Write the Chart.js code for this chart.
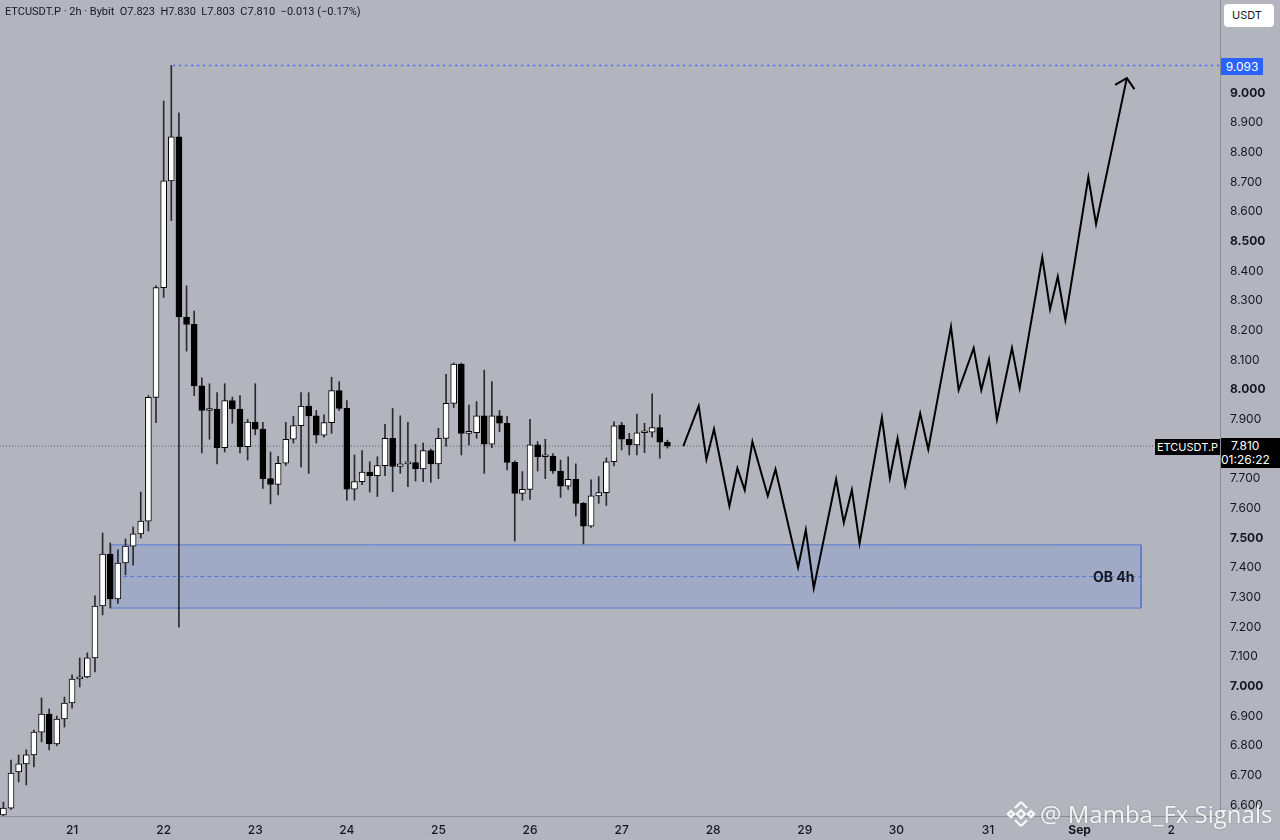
<!DOCTYPE html>
<html>
<head>
<meta charset="utf-8">
<script src="https://cdn.jsdelivr.net/npm/chart.js@4.4.1/dist/chart.umd.min.js"></script>
<style>
html,body{margin:0;padding:0;background:#b2b5bd;}
#wrap{position:relative;width:1280px;height:840px;overflow:hidden;background:#b2b5bd;font-family:Inter,"Noto Sans",sans-serif;color:#131722;}
#c{position:absolute;left:0;top:0;}
.lbl{position:absolute;white-space:nowrap;}
#hdr{left:5px;top:5px;font-family:Roboto,"Noto Sans",sans-serif;font-size:11px;line-height:14px;}
#usdt{left:1224px;top:4px;width:50px;height:23px;background:#fff;border-radius:4px;font-size:11px;line-height:23px;text-indent:8px;}
#hi{left:1221px;top:58px;width:42px;height:17px;background:#2962ff;color:#fff;font-size:12px;line-height:17px;text-align:center;}
#sym{left:1155px;top:439px;width:65px;height:16px;background:#000;color:#fff;font-size:11px;line-height:16px;text-align:center;}
#last{left:1221px;top:438px;width:59px;height:30px;background:#000;color:#fff;font-size:12px;line-height:14px;padding-top:1px;box-sizing:border-box;text-indent:10px;}
#ob{left:1093px;top:568px;font-size:14px;font-weight:700;line-height:18px;}
#wm{left:1006px;top:798px;height:32px;font-family:"Open Sans",sans-serif;font-size:24px;line-height:30px;color:rgba(255,255,255,0.9);text-shadow:0 0 2px rgba(0,0,0,0.25);display:flex;align-items:center;gap:4px;}
</style>
</head>
<body>
<div id="wrap">
<canvas id="c" width="1280" height="840"></canvas>
<div class="lbl" id="hdr">ETCUSDT.P · 2h · Bybit&nbsp; O7.823&nbsp; H7.830&nbsp; L7.803&nbsp; C7.810&nbsp; −0.013 (−0.17%)</div>
<div class="lbl" id="usdt">USDT</div>
<div class="lbl" id="hi">9.093</div>
<div class="lbl" id="sym">ETCUSDT.P</div>
<div class="lbl" id="last">7.810<br>01:26:22</div>
<div class="lbl" id="ob">OB 4h</div>
<div class="lbl" id="wm"><svg width="30" height="30" viewBox="0 0 30 30"><g fill="none" stroke="rgba(255,255,255,0.9)" stroke-width="2.4"><path d="M15 3 L21 9 M15 3 L9 9"/><path d="M15 27 L21 21 M15 27 L9 21"/><path d="M15 11 L19 15 L15 19 L11 15 Z"/><path d="M5 12 L8 15 L5 18 L2 15 Z"/><path d="M25 12 L28 15 L25 18 L22 15 Z"/></g></svg><span>@ Mamba_Fx Signals</span></div>
</div>
<script>
// ---- candle data (2h candles, ETCUSDT.P) ----
const firstCandleDay = 20.25;      // Aug 20, 06:00
const candleStepDays = 2 / 24;     // 2h
const candleOpen  = [6.567,6.590,6.712,6.739,6.769,6.846,6.907,6.806,6.890,6.944,7.025,7.032,7.096,7.271,7.446,7.295,7.416,7.473,7.514,7.557,7.974,8.344,8.704,8.852,8.245,8.220,8.013,7.930,7.935,7.805,7.963,7.935,7.808,7.891,7.867,7.700,7.681,7.752,7.833,7.879,7.945,7.912,7.847,7.889,7.997,7.937,7.665,7.690,7.722,7.710,7.744,7.836,7.741,7.750,7.754,7.733,7.795,7.750,7.836,7.954,8.086,7.853,7.855,7.912,7.816,7.912,7.887,7.755,7.650,7.664,7.814,7.774,7.776,7.726,7.675,7.698,7.617,7.540,7.642,7.653,7.757,7.881,7.833,7.814,7.855,7.857,7.872,7.823];
const candleHigh  = [6.610,6.752,6.769,6.786,6.853,6.961,6.924,6.900,6.964,7.039,7.096,7.113,7.305,7.517,7.483,7.460,7.497,7.537,7.655,7.980,8.350,8.973,9.093,8.933,8.350,8.265,8.040,8.020,7.990,8.020,7.975,7.980,7.900,8.020,7.890,7.790,7.775,7.890,7.910,7.990,7.990,7.930,7.915,8.042,8.027,7.963,7.780,7.795,7.757,7.774,7.883,7.937,7.912,7.890,7.816,7.820,7.800,7.870,8.052,8.090,8.090,7.948,7.960,8.066,8.027,7.930,7.910,7.760,7.724,7.900,7.825,7.833,7.785,7.763,7.774,7.750,7.620,7.696,7.707,7.770,7.892,7.890,7.853,7.918,7.887,7.986,7.915,7.830];
const candleLow   = [6.563,6.585,6.678,6.668,6.729,6.813,6.786,6.800,6.863,6.927,6.998,7.029,7.049,7.241,7.264,7.280,7.376,7.409,7.500,7.524,7.889,8.311,8.570,7.200,8.130,7.980,7.787,7.833,7.750,7.790,7.887,7.787,7.763,7.848,7.667,7.615,7.645,7.745,7.820,7.740,7.718,7.820,7.840,7.853,7.930,7.628,7.628,7.680,7.655,7.640,7.710,7.656,7.718,7.673,7.692,7.690,7.688,7.700,7.810,7.940,7.780,7.814,7.836,7.718,7.805,7.859,7.730,7.490,7.627,7.630,7.726,7.700,7.718,7.637,7.664,7.574,7.480,7.536,7.617,7.610,7.743,7.797,7.780,7.780,7.788,7.840,7.769,7.803];
const candleClose = [6.590,6.708,6.739,6.769,6.846,6.907,6.806,6.890,6.944,7.025,7.032,7.096,7.271,7.446,7.295,7.416,7.473,7.514,7.557,7.974,8.344,8.704,8.852,8.245,8.220,8.013,7.930,7.935,7.805,7.963,7.935,7.808,7.891,7.867,7.700,7.681,7.752,7.833,7.879,7.945,7.912,7.847,7.889,7.997,7.937,7.665,7.690,7.722,7.710,7.744,7.836,7.741,7.750,7.754,7.733,7.795,7.750,7.836,7.954,8.086,7.853,7.857,7.912,7.816,7.912,7.887,7.755,7.650,7.664,7.814,7.774,7.776,7.726,7.675,7.698,7.617,7.540,7.642,7.653,7.757,7.878,7.833,7.814,7.855,7.857,7.872,7.823,7.810];

// ---- projected path (drawn forecast) ----
const projDays   = [27.674,27.842,27.926,28.009,28.177,28.264,28.344,28.428,28.596,28.680,28.927,29.011,29.098,29.342,29.426,29.514,29.598,29.842,29.929,30.013,30.096,30.260,30.348,30.596,30.680,30.844,30.927,31.011,31.098,31.262,31.346,31.593,31.678,31.762,31.845,32.096,32.180,32.516];
const projPrices = [7.810,7.945,7.765,7.867,7.608,7.735,7.662,7.825,7.642,7.732,7.401,7.527,7.331,7.698,7.552,7.662,7.482,7.906,7.703,7.836,7.679,7.920,7.799,8.212,7.999,8.140,7.999,8.102,7.900,8.140,8.005,8.446,8.271,8.381,8.235,8.716,8.558,9.050];
const arrowDays   = [32.388,32.516,32.599];
const arrowPrices = [9.027,9.050,9.013];

// ---- levels / zone ----
const highLevel = 9.093, highLevelStartDay = 22.104;
const lastPrice = 7.810;
const obTop = 7.477, obBottom = 7.264, obMid = 7.370;
const obStartDay = 21.426, obEndDay = 32.672, obMidStartDay = 21.56;

// ---- axes ----
const xMin = 20.2131, xMax = 33.5333;
const yMin = 6.5632, yMax = 9.3134;
const xTickDays   = [21,22,23,24,25,26,27,28,29,30,31,32,33];
const xTickLabels = ['21','22','23','24','25','26','27','28','29','30','31','Sep','2'];
const yTickValues = [6.6,6.7,6.8,6.9,7.0,7.1,7.2,7.3,7.4,7.5,7.6,7.7,7.8,7.9,8.0,8.1,8.2,8.3,8.4,8.5,8.6,8.7,8.8,8.9,9.0];

const candleDays = candleOpen.map((_, i) => firstCandleDay + i * candleStepDays);
const wickData = candleDays.map((d, i) => ({x: d, y: [candleLow[i], candleHigh[i]]}));
const bodyData = candleDays.map((d, i) => ({x: d, y: [candleOpen[i], candleClose[i]]}));
const bodyColors = candleOpen.map((o, i) => candleClose[i] >= o ? '#ffffff' : '#000000');
const pts = (xs, ys) => xs.map((x, i) => ({x, y: ys[i]}));

const FONT = 'Inter, "Noto Sans", sans-serif';
const lineBase = {type: 'line', pointRadius: 0, pointHoverRadius: 0, tension: 0, fill: false};

new Chart(document.getElementById('c'), {
  type: 'bar',
  data: {
    datasets: [
      Object.assign({}, lineBase, {label: 'forecast', data: pts(projDays, projPrices), borderColor: '#000', borderWidth: 2, borderJoinStyle: 'miter', order: 0}),
      Object.assign({}, lineBase, {label: 'arrow', data: pts(arrowDays, arrowPrices), borderColor: '#000', borderWidth: 2, order: 0}),
      {type: 'bar', label: 'body', data: bodyData, backgroundColor: bodyColors, borderColor: '#000', borderWidth: 1, borderSkipped: false, barThickness: 6, minBarLength: 2, grouped: false, order: 1},
      {type: 'bar', label: 'wick', data: wickData, backgroundColor: '#2a2a2e', borderWidth: 0, barThickness: 1, grouped: false, order: 2},
      Object.assign({}, lineBase, {label: 'high', data: [{x: highLevelStartDay, y: highLevel}, {x: xMax, y: highLevel}], borderColor: '#3d6cf0', borderWidth: 1.5, borderDash: [2, 4], order: 3}),
      Object.assign({}, lineBase, {label: 'last', data: [{x: xMin, y: lastPrice}, {x: xMax, y: lastPrice}], borderColor: '#5d6069', borderWidth: 1, borderDash: [1, 2], order: 4}),
      Object.assign({}, lineBase, {label: 'obmid', data: [{x: obMidStartDay, y: obMid}, {x: obEndDay, y: obMid}], borderColor: '#5573d0', borderWidth: 1, borderDash: [4, 3], order: 5}),
      Object.assign({}, lineBase, {label: 'obline', data: [{x: obStartDay, y: obBottom}, {x: obStartDay, y: obTop}, {x: obEndDay, y: obTop}, {x: obEndDay, y: obBottom}, {x: obStartDay, y: obBottom}], borderColor: '#5a78d2', borderWidth: 1, order: 6}),
      Object.assign({}, lineBase, {label: 'obfill', data: [{x: obStartDay, y: obTop}, {x: obEndDay, y: obTop}], borderWidth: 0, fill: {value: obBottom}, backgroundColor: 'rgba(41,98,255,0.13)', order: 7})
    ]
  },
  options: {
    responsive: false,
    animation: false,
    events: [],
    layout: {padding: 0},
    plugins: {legend: {display: false}, tooltip: {enabled: false}},
    scales: {
      x: {
        type: 'linear', min: xMin, max: xMax, offset: false, position: 'bottom',
        grid: {display: false, drawTicks: false},
        border: {display: true, color: '#8a8d95', width: 1},
        ticks: {autoSkip: false, maxRotation: 0, padding: 7, color: '#131722',
          font: ctx => ({family: FONT, size: 12, weight: (ctx.tick && ctx.tick.value === 32) ? '700' : '500'}),
          callback: (v, i) => xTickLabels[i]},
        afterBuildTicks: s => { s.ticks = xTickDays.map(v => ({value: v})); },
        afterFit: s => { s.height = 24; s.paddingLeft = 0; s.paddingRight = 0; }
      },
      y: {
        type: 'linear', position: 'right', min: yMin, max: yMax,
        grid: {display: false, drawTicks: false},
        border: {display: true, color: '#8a8d95', width: 1},
        ticks: {padding: 10, color: '#131722',
          font: ctx => {
            const v = ctx.tick ? ctx.tick.value : 0;
            const half = Math.abs(v * 2 - Math.round(v * 2)) < 1e-6;
            return {family: FONT, size: 12, weight: half ? '700' : '400'};
          },
          callback: v => v.toFixed(3)},
        afterBuildTicks: s => { s.ticks = yTickValues.map(v => ({value: v})); },
        afterFit: s => { s.width = 60; s.paddingTop = 0; s.paddingBottom = 0; }
      }
    }
  }
});
</script>
</body>
</html>
